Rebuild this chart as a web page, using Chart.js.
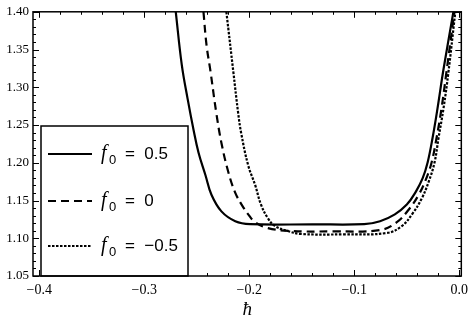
<!DOCTYPE html>
<html>
<head>
<meta charset="utf-8">
<script src="https://cdn.jsdelivr.net/npm/chart.js@4.4.1/dist/chart.umd.min.js"></script>
<style>
  html, body { margin: 0; padding: 0; background: #fff; }
  #wrap { width: 474px; height: 323px; }
</style>
</head>
<body>
<div id="wrap"><canvas id="chart"></canvas></div>
<script>
// values
const xSolid = [-0.2700, -0.2643, -0.2587, -0.2530, -0.2483, -0.2417, -0.2360, -0.2265, -0.2133, -0.1992, -0.1400, -0.0905,
                -0.0754, -0.0613, -0.0499, -0.0414, -0.0348, -0.0301, -0.0254, -0.0207, -0.0150, -0.0055];
const ySolid = [1.400, 1.3300, 1.2846, 1.2431, 1.2133, 1.1835, 1.1576, 1.1356, 1.1226, 1.1187, 1.1185, 1.1187,
                1.1226, 1.1317, 1.1446, 1.1615, 1.1796, 1.2004, 1.2328, 1.2717, 1.3235, 1.400];

const xDashed = [-0.2436, -0.2407, -0.2369, -0.2313, -0.2265, -0.2199, -0.2133, -0.2067, -0.2010, -0.1944, -0.1822, -0.1604, -0.1200,
                 -0.0754, -0.0594, -0.0480, -0.0386, -0.0320, -0.0263, -0.0216, -0.0169, -0.0122, -0.0046];
const yDashed = [1.400, 1.3559, 1.3209, 1.2652, 1.2263, 1.1874, 1.1602, 1.1433, 1.1317, 1.1213, 1.1135, 1.1096, 1.1092,
                 1.1109, 1.1213, 1.1381, 1.1576, 1.1770, 1.2004, 1.2328, 1.2717, 1.3196, 1.400];

const xDotted = [-0.2218, -0.2152, -0.2105, -0.2077, -0.2010, -0.1944, -0.1888, -0.1822, -0.1755, -0.1633, -0.1510, -0.1100,
                 -0.0688, -0.0547, -0.0443, -0.0358, -0.0292, -0.0235, -0.0197, -0.0150, -0.0103, -0.0037];
const yDotted = [1.400, 1.3209, 1.2652, 1.2393, 1.1965, 1.1706, 1.1446, 1.1265, 1.1161, 1.1096, 1.1057, 1.1052,
                 1.1070, 1.1161, 1.1330, 1.1524, 1.1744, 1.2004, 1.2328, 1.2717, 1.3196, 1.400];

const legendValues = ['0.5', '0', '\u22120.5'];

const xTicks = [-0.4, -0.3, -0.2, -0.1, 0.0];
const xTickLabels = ['\u22120.4', '\u22120.3', '\u22120.2', '\u22120.1', '0.0'];
const yTicks = [1.05, 1.10, 1.15, 1.20, 1.25, 1.30, 1.35, 1.40];
const yTickLabels = ['1.05', '1.10', '1.15', '1.20', '1.25', '1.30', '1.35', '1.40'];
const xMinorStep = 0.02;
const yMinorStep = 0.01;

function toPoints(xs, ys) {
    return xs.map((x, i) => ({ x: x, y: ys[i] }));
}

const dashStyles = [[], [8, 5], [2.5, 1.5]];

// frame, inward ticks and the legend box
const framePlugin = {
    id: 'frame',
    afterDatasetsDraw(chart) {
        const ctx = chart.ctx;
        const a = chart.chartArea;
        const xs = chart.scales.x;
        const ys = chart.scales.y;
        ctx.save();
        ctx.strokeStyle = '#000';
        ctx.lineWidth = 1;

        // minor + major ticks on the x axis (bottom and top)
        for (let v = -0.4; v <= 0.0001; v += xMinorStep) {
            const major = Math.abs(v * 10 - Math.round(v * 10)) < 1e-6;
            const len = major ? 6 : 3;
            const px = Math.round(xs.getPixelForValue(v)) + 0.5;
            ctx.beginPath();
            ctx.moveTo(px, a.bottom); ctx.lineTo(px, a.bottom - len);
            ctx.moveTo(px, a.top); ctx.lineTo(px, a.top + len);
            ctx.stroke();
        }
        // minor + major ticks on the y axis (left and right)
        for (let v = 1.05; v <= 1.4001; v += yMinorStep) {
            const major = Math.abs(v * 20 - Math.round(v * 20)) < 1e-6;
            const len = major ? 6 : 3;
            const py = Math.round(ys.getPixelForValue(v)) + 0.5;
            ctx.beginPath();
            ctx.moveTo(a.left, py); ctx.lineTo(a.left + len, py);
            ctx.moveTo(a.right, py); ctx.lineTo(a.right - len, py);
            ctx.stroke();
        }

        // legend box
        const bx = 41, by = 126, bw = 147, bh = a.bottom - by;
        ctx.fillStyle = '#fff';
        ctx.fillRect(bx, by, bw, bh);
        ctx.lineWidth = 1.5;
        ctx.strokeRect(bx, by, bw, bh);

        const rows = [154, 201, 246];
        chart.data.datasets.forEach((ds, i) => {
            const y = rows[i];
            ctx.beginPath();
            ctx.lineWidth = 2.2;
            ctx.setLineDash(dashStyles[i]);
            ctx.moveTo(48, y);
            ctx.lineTo(92, y);
            ctx.stroke();
            ctx.setLineDash([]);

            ctx.fillStyle = '#000';
            ctx.textBaseline = 'alphabetic';
            ctx.font = 'italic 20px "Liberation Serif"';
            ctx.fillText('f', 101, y + 5);
            ctx.font = '13px "Liberation Sans"';
            ctx.fillText('0', 109, y + 10);
            ctx.font = '17px "Liberation Sans"';
            ctx.fillText('=  ' + legendValues[i], 125, y + 5);
        });

        // plot frame
        ctx.lineWidth = 1.5;
        ctx.strokeRect(a.left, a.top, a.right - a.left, a.bottom - a.top);
        ctx.restore();
    }
};

const ctx = document.getElementById('chart').getContext('2d');
new Chart(ctx, {
    type: 'line',
    data: {
        datasets: [{
            label: 'f0 = 0.5',
            data: toPoints(xSolid, ySolid),
            borderColor: '#000',
            borderWidth: 2.2,
            borderDash: dashStyles[0]
        }, {
            label: 'f0 = 0',
            data: toPoints(xDashed, yDashed),
            borderColor: '#000',
            borderWidth: 2.2,
            borderDash: dashStyles[1]
        }, {
            label: 'f0 = -0.5',
            data: toPoints(xDotted, yDotted),
            borderColor: '#000',
            borderWidth: 2.2,
            borderDash: dashStyles[2]
        }]
    },
    options: {
        responsive: true,
        maintainAspectRatio: false,
        animation: false,
        layout: { padding: { top: 6, right: 9, left: 0, bottom: 0 } },
        elements: {
            point: { radius: 0 },
            line: { tension: 0.4, fill: false }
        },
        clip: true,
        scales: {
            x: {
                type: 'linear',
                min: -0.406,
                max: 0.002,
                afterBuildTicks: scale => { scale.ticks = xTicks.map(v => ({ value: v })); },
                afterFit: scale => { scale.height = 47; },
                grid: { display: false, drawTicks: false },
                border: { display: false },
                ticks: {
                    padding: 6,
                    autoSkip: false,
                    maxRotation: 0,
                    color: '#000',
                    font: { family: 'Liberation Serif', size: 14 },
                    callback: (value, index) => xTickLabels[index]
                },
                title: {
                    display: true,
                    text: '\u0127',
                    color: '#000',
                    padding: { top: 4, bottom: 2 },
                    font: { family: 'Liberation Serif', size: 19, style: 'italic' }
                }
            },
            y: {
                min: 1.05,
                max: 1.40,
                afterBuildTicks: scale => { scale.ticks = yTicks.map(v => ({ value: v })); },
                afterFit: scale => { scale.width = 33; },
                grid: { display: false, drawTicks: false },
                border: { display: false },
                ticks: {
                    padding: 4,
                    autoSkip: false,
                    color: '#000',
                    font: { family: 'Liberation Serif', size: 13 },
                    callback: (value, index) => yTickLabels[index]
                }
            }
        },
        plugins: {
            legend: { display: false },
            tooltip: { enabled: false }
        }
    },
    plugins: [framePlugin]
});
</script>
</body>
</html>
